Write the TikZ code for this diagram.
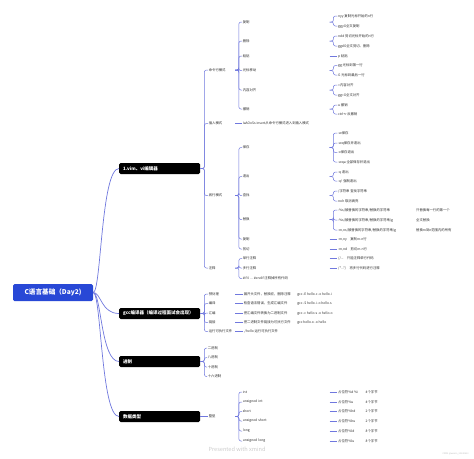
\documentclass[tikz,border=0pt]{standalone}
\usepackage{fontspec}
\setmainfont{Noto Sans CJK SC}
\definecolor{linec}{RGB}{112,120,222}
\definecolor{rootc}{RGB}{40,72,214}
\definecolor{txtc}{RGB}{45,45,45}
\begin{document}
\begin{tikzpicture}[x=1pt,y=-1pt,
  conn/.style={draw=linec,line width=0.5pt,rounded corners=2pt},
  rootconn/.style={draw=linec,line width=0.7pt},
  rootbox/.style={fill=rootc,text=white,font=\fontsize{6.6}{7}\selectfont\bfseries,rounded corners=1.5pt,minimum width=80pt,minimum height=17pt,inner sep=0pt},
  mainbox/.style={fill=black,text=white,font=\fontsize{4.5}{5}\selectfont\bfseries,rounded corners=1.5pt,minimum height=11pt,text width=73pt,inner xsep=4pt,inner ysep=0pt,anchor=west,align=left},
  lab/.style={anchor=west,inner xsep=0.6pt,inner ysep=0.5pt,font=\fontsize{3.35}{3.8}\selectfont,text=txtc},
  ltwo/.style={lab,text width=25.5pt,align=left},
  lthree/.style={lab,text width=86pt,align=left},
  mark2/.style={text=gray!40,font=\fontsize{5.6}{6}\selectfont},
  mark3/.style={text=gray!50,font=\fontsize{2.2}{3}\selectfont}
]
\useasboundingbox (0,0) rectangle (474,458);
\fill[white] (0,0) rectangle (474,458);

% root and main branches
\node[rootbox] (root) at (53,292.5) {C语言基础（Day2)};
\node[mainbox] (vim) at (119,168.5) {1.vim、vi编辑器};
\node[mainbox] (gcc) at (119,313.5) {gcc编译器（编译过程面试会出现）};
\node[mainbox] (jz) at (119,361.5) {进制};
\node[mainbox] (sj) at (119,416.5) {数据类型};
\foreach \b in {vim,gcc,jz,sj}
  \draw[rootconn] (root.east) .. controls +(8,0) and +(-18,0) .. (\b.west);

% vim level 2
\node[ltwo] (cmd) at (208,70) {命令行模式};
\node[ltwo] (ins) at (208,123.5) {插入模式};
\node[ltwo] (bot) at (208,195.5) {底行模式};
\node[ltwo] (zs) at (208,268) {注释};
\foreach \c in {cmd,ins,bot,zs} \draw[conn] (vim.east) -- ++(4,0) |- (\c.west);

\node[lab] (insl) at (242,123.5) {IaAOoSs insert从命令行模式进入到插入模式};
\draw[conn] (ins.east) -- (insl.west);

% command mode
\node[lthree] (c1) at (242,22) {复制};
\node[lthree] (c2) at (242,41) {删除};
\node[lthree] (c3) at (242,56) {粘贴};
\node[lthree] (c4) at (242,70.5) {光标移动};
\node[lthree] (c5) at (242,90) {内容对齐};
\node[lthree] (c6) at (242,109) {撤销};
\foreach \c in {c1,c2,c3,c4,c5,c6} \draw[conn] (cmd.east) -- ++(3.8,0) |- (\c.west);

\node[lab] (c1a) at (337.4,16) {nyy 复制光标开始的n行};
\node[lab] (c1b) at (337.4,26) {ggyG全文复制};
\node[lab] (c2a) at (337.4,36) {ndd 剪切光标开始的n行};
\node[lab] (c2b) at (337.4,46) {ggdG全文剪切、删除};
\node[lab] (c3a) at (337.4,56) {p 粘贴};
\node[lab] (c4a) at (337.4,65.5) {gg 光标到第一行};
\node[lab] (c4b) at (337.4,75) {G 光标到最后一行};
\node[lab] (c5a) at (337.4,85) {=内容对齐};
\node[lab] (c5b) at (337.4,95) {gg=G全文对齐};
\node[lab] (c6a) at (337.4,105) {u 撤销};
\node[lab] (c6b) at (337.4,114) {ctrl+r 反撤销};
\foreach \p/\c in {c1/c1a,c1/c1b,c2/c2a,c2/c2b,c4/c4a,c4/c4b,c5/c5a,c5/c5b,c6/c6a,c6/c6b}
  \draw[conn] (\p.east) -- ++(3.8,0) |- (\c.west);
\draw[conn] (c3.east) -- (c3a.west);

% bottom-line mode
\node[lthree] (d1) at (242,147.5) {保存};
\node[lthree] (d2) at (242,176.5) {退出};
\node[lthree] (d3) at (242,195.5) {查找};
\node[lthree] (d4) at (242,219.5) {替换};
\node[lthree] (d5) at (242,239) {复制};
\node[lthree] (d6) at (242,249) {剪切};
\foreach \c in {d1,d2,d3,d4,d5,d6} \draw[conn] (bot.east) -- ++(3.8,0) |- (\c.west);

\node[lab] (d1a) at (337.4,133) {:w保存};
\node[lab] (d1b) at (337.4,143) {:wq保存并退出};
\node[lab] (d1c) at (337.4,152.5) {:x保存退出};
\node[lab] (d1d) at (337.4,162) {:wqa 全部保存并退出};
\node[lab] (d2a) at (337.4,172) {:q 退出};
\node[lab] (d2b) at (337.4,181) {:q! 强制退出};
\node[lab] (d3a) at (337.4,191) {/字符串 查找字符串};
\node[lab] (d3b) at (337.4,201) {noh 取消高亮};
\node[lab] (d4a) at (337.4,210) {\makebox[78pt][l]{:\%s/被替换的字符串/替换的字符串}只替换每一行的第一个};
\node[lab] (d4b) at (337.4,220) {\makebox[78pt][l]{:\%s/被替换的字符串/替换的字符串/g}全文替换};
\node[lab] (d4c) at (337.4,230) {\makebox[78pt][l]{:m,ns/被替换的字符串/替换的字符串/g}替换m到n范围内的所有};
\node[lab] (d5a) at (337.4,239) {:m,ny\quad 复制m-n行};
\node[lab] (d6a) at (337.4,249) {:m,nd\quad 剪切m-n行};
\foreach \p/\c in {d1/d1a,d1/d1b,d1/d1c,d1/d1d,d2/d2a,d2/d2b,d3/d3a,d3/d3b,d4/d4a,d4/d4b,d4/d4c}
  \draw[conn] (\p.east) -- ++(3.8,0) |- (\c.west);
\draw[conn] (d5.east) -- (d5a.west);
\draw[conn] (d6.east) -- (d6a.west);

% comments
\node[lthree] (z1) at (242,258.5) {单行注释};
\node[lthree] (z2) at (242,268) {多行注释};
\node[lab] (z3) at (242,278.5) {\#if 0 ... \#endif 注释掉所有代码};
\foreach \c in {z1,z2,z3} \draw[conn] (zs.east) -- ++(3.8,0) |- (\c.west);
\node[lab] (z1a) at (337.4,258.5) {//...\quad 只能注释单行代码};
\node[lab] (z2a) at (337.4,268) {/*...*/\quad 将多行代码进行注释};
\draw[conn] (z1.east) -- (z1a.west);
\draw[conn] (z2.east) -- (z2a.west);

% gcc
\node[ltwo] (g1) at (208,294) {预处理};
\node[ltwo] (g2) at (208,303.5) {编译};
\node[ltwo] (g3) at (208,313) {汇编};
\node[ltwo] (g4) at (208,322.5) {链接};
\node[ltwo] (g5) at (208,331.5) {运行可执行文件};
\foreach \c in {g1,g2,g3,g4,g5} \draw[conn] (gcc.east) -- ++(4,0) |- (\c.west);
\node[lab] (g1a) at (243,294) {\makebox[53.5pt][l]{展开头文件，替换宏，删除注释}gcc -E hello.c -o hello.i};
\node[lab] (g2a) at (243,303.5) {\makebox[53.5pt][l]{检查语法错误，生成汇编文件}gcc -S hello.i -o hello.s};
\node[lab] (g3a) at (243,313) {\makebox[53.5pt][l]{把汇编文件转换为二进制文件}gcc -c hello.s -o hello.o};
\node[lab] (g4a) at (243,322.5) {\makebox[53.5pt][l]{把二进制文件链接为可执行文件}gcc hello.o -o hello};
\node[lab] (g5a) at (243,331.5) {./hello 运行可执行文件};
\foreach \p/\c in {g1/g1a,g2/g2a,g3/g3a,g4/g4a,g5/g5a} \draw[conn] (\p.east) -- (\c.west);

% number systems
\node[lab] (j1) at (207,348) {二进制};
\node[lab] (j2) at (207,357.5) {八进制};
\node[lab] (j3) at (207,367) {十进制};
\node[lab] (j4) at (207,376.5) {十六进制};
\foreach \c in {j1,j2,j3,j4} \draw[conn] (jz.east) -- ++(4,0) |- (\c.west);

% data types
\node[ltwo] (zx) at (208,416.5) {整型};
\draw[conn] (sj.east) -- (zx.west);
\node[lthree] (t1) at (242,392) {int};
\node[lthree] (t2) at (242,402) {unsigned int};
\node[lthree] (t3) at (242,411.5) {short};
\node[lthree] (t4) at (242,421) {unsigned short};
\node[lthree] (t5) at (242,431) {long};
\node[lthree] (t6) at (242,441) {unsigned long};
\foreach \c in {t1,t2,t3,t4,t5,t6} \draw[conn] (zx.east) -- ++(3.8,0) |- (\c.west);
\node[lab] (t1a) at (337.4,392) {\makebox[27.5pt][l]{占位符\%d \%i}4个字节};
\node[lab] (t2a) at (337.4,402) {\makebox[27.5pt][l]{占位符\%u}4个字节};
\node[lab] (t3a) at (337.4,411.5) {\makebox[27.5pt][l]{占位符\%hd}2个字节};
\node[lab] (t4a) at (337.4,421) {\makebox[27.5pt][l]{占位符\%hu}2个字节};
\node[lab] (t5a) at (337.4,431) {\makebox[27.5pt][l]{占位符\%ld}8个字节};
\node[lab] (t6a) at (337.4,441) {\makebox[27.5pt][l]{占位符\%lu}8个字节};
\foreach \p/\c in {t1/t1a,t2/t2a,t3/t3a,t4/t4a,t5/t5a,t6/t6a} \draw[conn] (\p.east) -- (\c.west);

% watermarks
\node[mark2] (wm) at (237,449) {Presented with xmind};
\node[mark3, anchor=east] (csdn) at (472,454) {CSDN @weixin\_20240823};
\end{tikzpicture}
\end{document}
